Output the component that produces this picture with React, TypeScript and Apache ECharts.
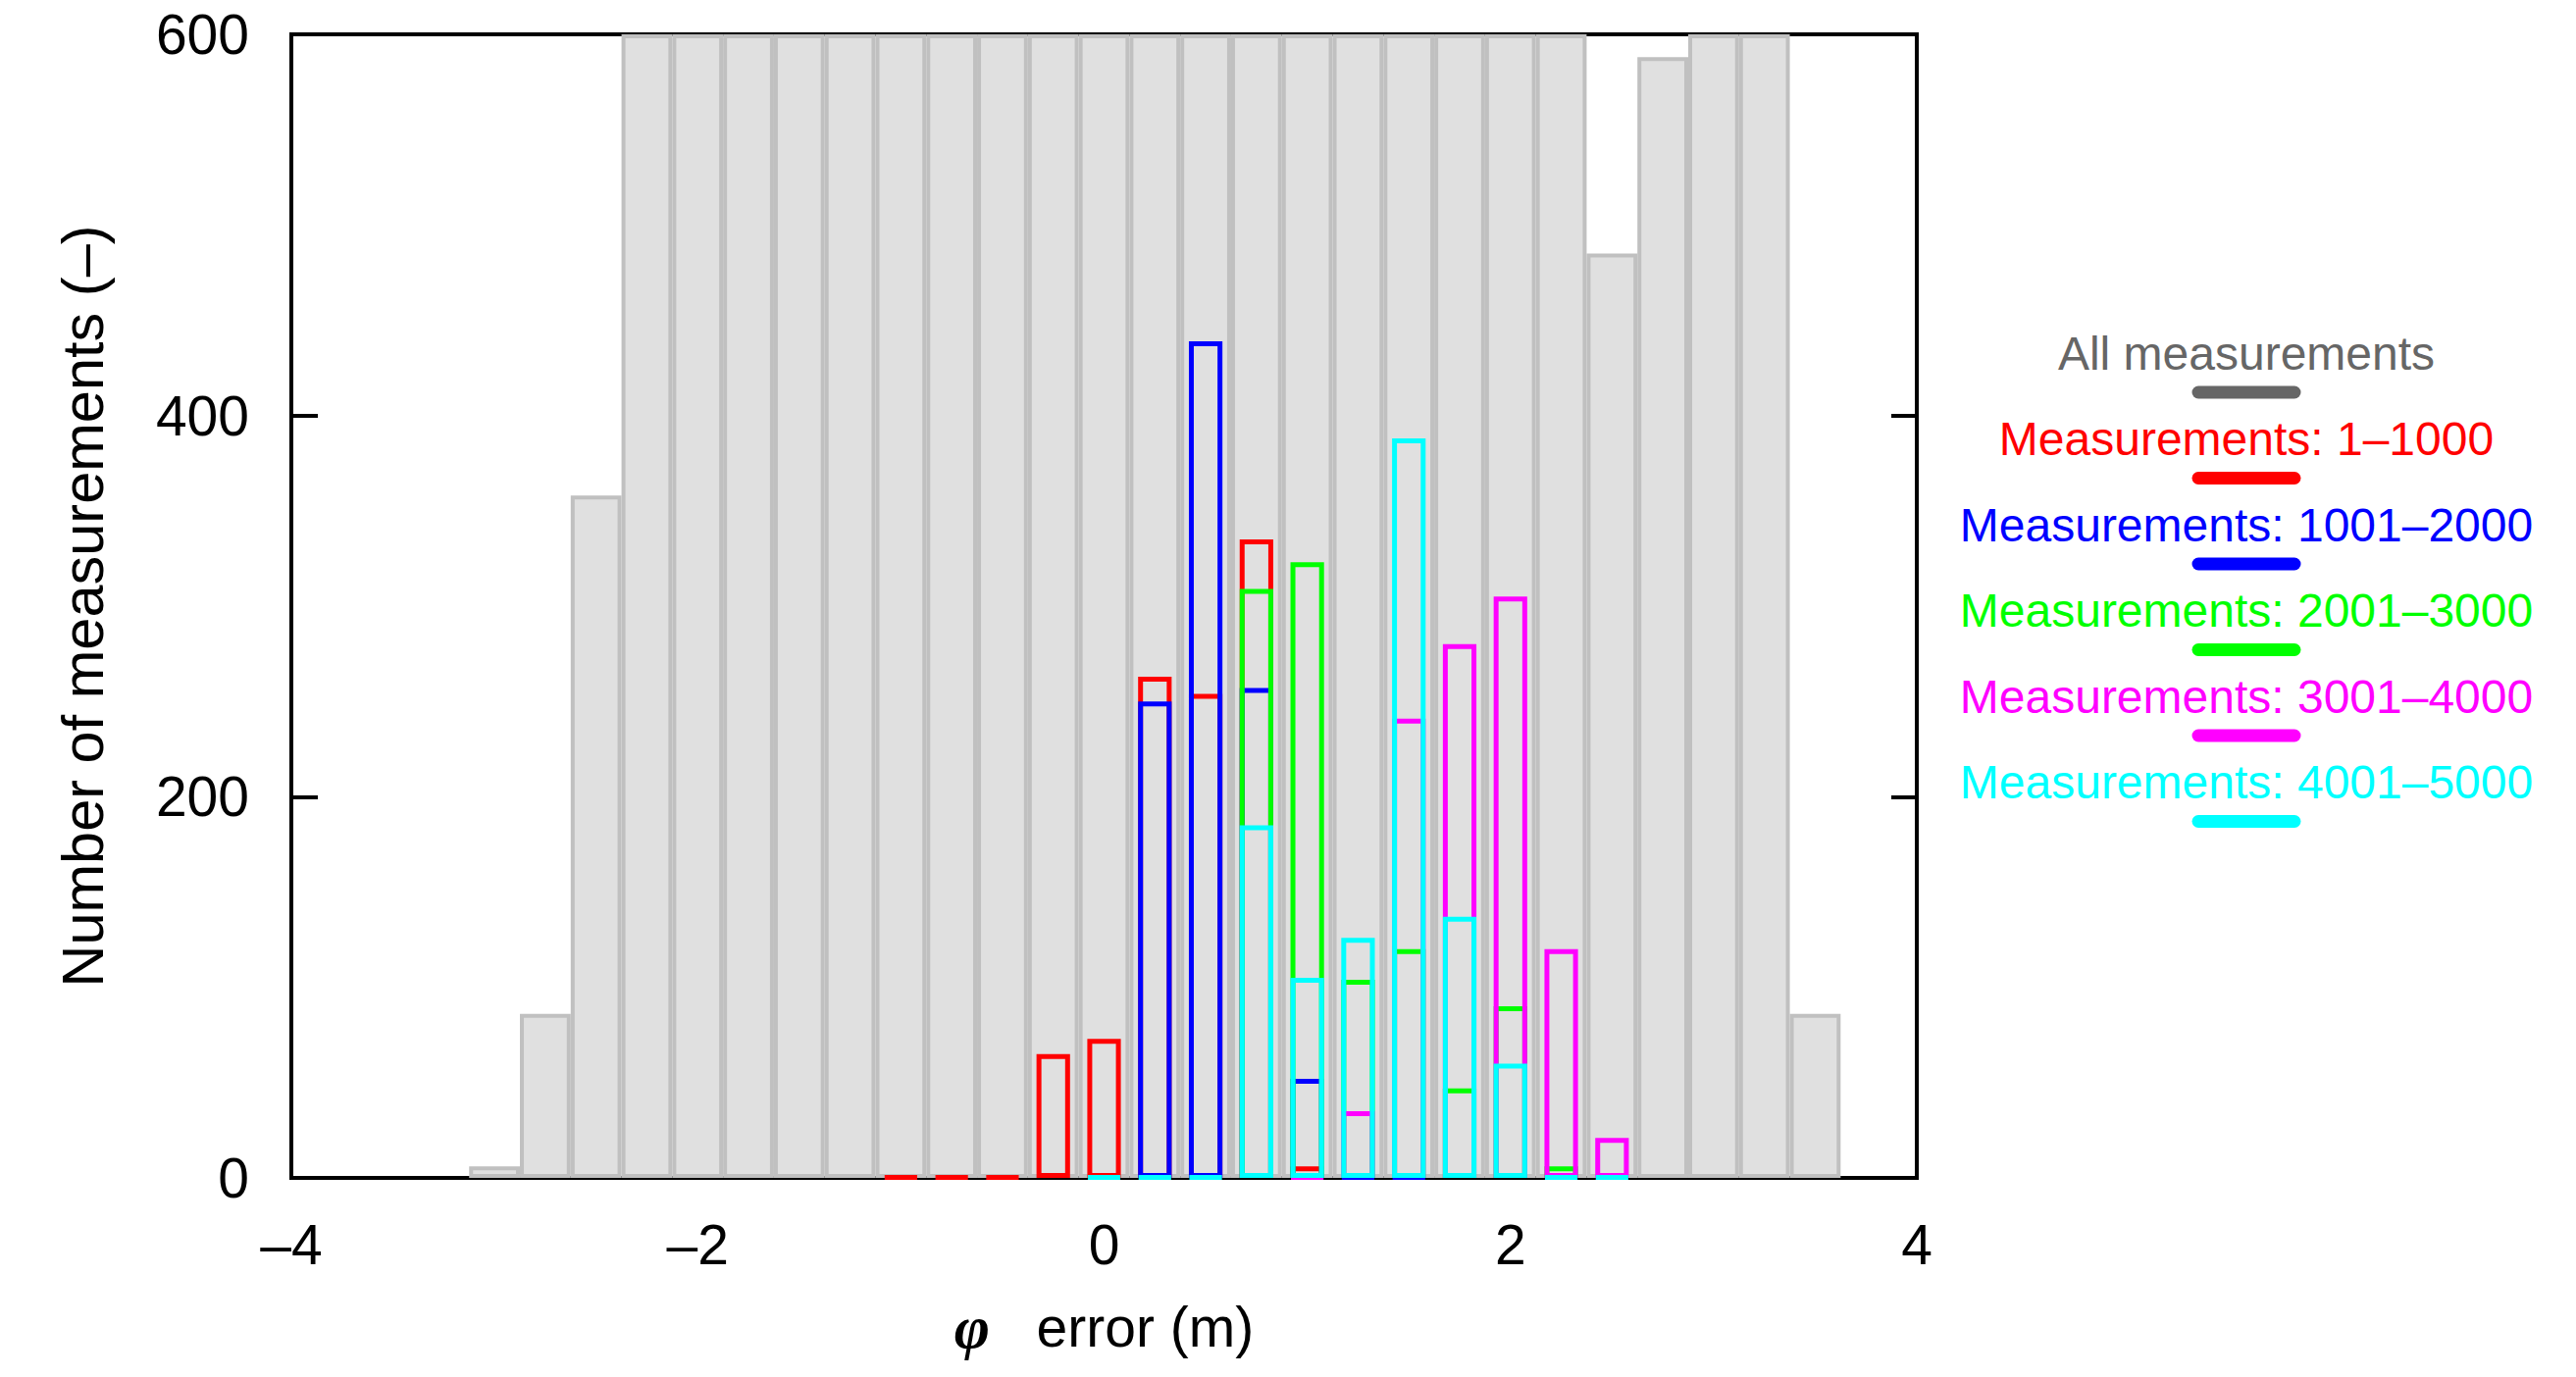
import React, { useEffect, useRef } from "react";
import * as echarts from "echarts";

// ---- data ----
const allX = [-3, -2.75, -2.5, -2.25, -2, -1.75, -1.5, -1.25, -1, -0.75, -0.5, -0.25, 0, 0.25, 0.5, 0.75, 1, 1.25, 1.5, 1.75, 2, 2.25, 2.5, 2.75, 3, 3.25, 3.5];
const allY = [6, 86, 358, 600, 600, 600, 600, 600, 600, 600, 600, 600, 600, 600, 600, 600, 600, 600, 600, 600, 600, 600, 485, 588, 600, 600, 86];

const redX = [-1, -0.75, -0.5, -0.25, 0, 0.25, 0.5, 0.75, 1];
const redY = [0, 0, 0, 65, 73, 263, 254, 335, 6];

const blueX = [0.25, 0.5, 0.75, 1, 1.25, 1.5];
const blueY = [250, 439, 257, 52, 0, 0];

const greenX = [0.75, 1, 1.25, 1.5, 1.75, 2, 2.25];
const greenY = [309, 323, 104, 120, 47, 90, 6];

const magentaX = [1, 1.25, 1.5, 1.75, 2, 2.25, 2.5];
const magentaY = [0, 35, 241, 280, 305, 120, 21];

const cyanX = [0, 0.25, 0.5, 0.75, 1, 1.25, 1.5, 1.75, 2, 2.25, 2.5];
const cyanY = [0, 0, 0, 185, 105, 126, 388, 137, 60, 0, 0];

const legendNames = [
  "All measurements",
  "Measurements: 1–1000",
  "Measurements: 1001–2000",
  "Measurements: 2001–3000",
  "Measurements: 3001–4000",
  "Measurements: 4001–5000",
];
const legendColors = ["#666666", "#ff0000", "#0000ff", "#00ff00", "#ff00ff", "#00ffff"];

const xTicks = { min: -4, max: 4, interval: 2 };
const yTicks = { min: 0, max: 600, interval: 200 };

const FONT = '"Liberation Sans", Arial, sans-serif';

function pairs(xs: number[], ys: number[]) {
  return xs.map((x, i) => [x, ys[i]]);
}

export default function App() {
  const ref = useRef<HTMLDivElement>(null);

  useEffect(() => {
    document.body.style.margin = "0";
    const chart = echarts.init(ref.current!, null, { renderer: "svg" });

    const colored = [
      { name: legendNames[1], x: redX, y: redY, c: legendColors[1] },
      { name: legendNames[2], x: blueX, y: blueY, c: legendColors[2] },
      { name: legendNames[3], x: greenX, y: greenY, c: legendColors[3] },
      { name: legendNames[4], x: magentaX, y: magentaY, c: legendColors[4] },
      { name: legendNames[5], x: cyanX, y: cyanY, c: legendColors[5] },
    ];

    const legendGraphics: any[] = [];
    legendNames.forEach((n, i) => {
      legendGraphics.push({
        type: "text",
        x: 2290,
        y: 360 + i * 87.5,
        style: {
          text: n,
          fill: legendColors[i],
          font: `48px ${FONT}`,
          textAlign: "center",
          textVerticalAlign: "middle",
          align: "center",
          verticalAlign: "middle",
        },
      });
      legendGraphics.push({
        type: "line",
        shape: { x1: 2241, y1: 400 + i * 87.5, x2: 2339, y2: 400 + i * 87.5 },
        style: { stroke: legendColors[i], lineWidth: 13, lineCap: "round" },
      });
    });

    const axisLineStyle = { color: "#000", width: 4 };

    chart.setOption({
      animation: false,
      backgroundColor: "#fff",
      grid: {
        left: 297,
        right: 672,
        top: 35,
        bottom: 203,
        show: true,
        borderColor: "#000",
        borderWidth: 4,
        backgroundColor: "transparent",
      },
      xAxis: [
        {
          type: "value",
          ...xTicks,
          position: "bottom",
          axisLine: { show: true, onZero: false, lineStyle: axisLineStyle },
          axisTick: { show: false },
          splitLine: { show: false },
          axisLabel: {
            fontSize: 57,
            fontFamily: FONT,
            color: "#000",
            margin: 39,
            formatter: (v: number) => String(v).replace("-", "–"),
          },
          name: "{i|φ}   error (m)",
          nameLocation: "middle",
          nameGap: 121,
          nameTextStyle: {
            fontSize: 57,
            fontFamily: FONT,
            color: "#000",
            rich: {
              i: { fontSize: 62, fontStyle: "italic", fontWeight: "bold", fontFamily: '"Liberation Serif", serif', color: "#000" },
            },
          },
        },
        {
          type: "value",
          ...xTicks,
          position: "top",
          show: false,
          axisLine: { onZero: false },
          splitLine: { show: false },
        },
      ],
      yAxis: [
        {
          type: "value",
          ...yTicks,
          position: "left",
          axisLine: { show: true, onZero: false, lineStyle: axisLineStyle },
          axisTick: { show: true, inside: true, length: 27, lineStyle: axisLineStyle },
          splitLine: { show: false },
          axisLabel: { fontSize: 57, fontFamily: FONT, color: "#000", margin: 43 },
          name: "Number of measurements (–)",
          nameLocation: "middle",
          nameGap: 183,
          nameRotate: 90,
          nameTextStyle: { fontSize: 59.5, fontFamily: FONT, color: "#000" },
        },
        {
          type: "value",
          ...yTicks,
          position: "right",
          axisLine: { show: true, onZero: false, lineStyle: axisLineStyle },
          axisTick: { show: true, inside: true, length: 26, lineStyle: axisLineStyle },
          splitLine: { show: false },
          axisLabel: { show: false },
        },
      ],
      graphic: legendGraphics,
      series: [
        {
          name: legendNames[0],
          type: "bar",
          xAxisIndex: 0,
          yAxisIndex: 0,
          data: pairs(allX, allY),
          barWidth: "100%",
          clip: true,
          silent: true,
          z: 2,
          itemStyle: { color: "#e0e0e0", borderColor: "#c0c0c0", borderWidth: 4 },
        },
        ...colored.map((s, i) => ({
          name: s.name,
          type: "bar",
          xAxisIndex: 1,
          yAxisIndex: 0,
          data: pairs(s.x, s.y),
          barWidth: "66%",
          barGap: "-100%",
          barMinHeight: 1,
          clip: true,
          silent: true,
          z: 3 + i,
          itemStyle: { color: "rgba(0,0,0,0)", borderColor: s.c, borderWidth: 5 },
        })),
      ],
    });

    return () => chart.dispose();
  }, []);

  return <div ref={ref} style={{ width: 2626, height: 1404 }} />;
}
